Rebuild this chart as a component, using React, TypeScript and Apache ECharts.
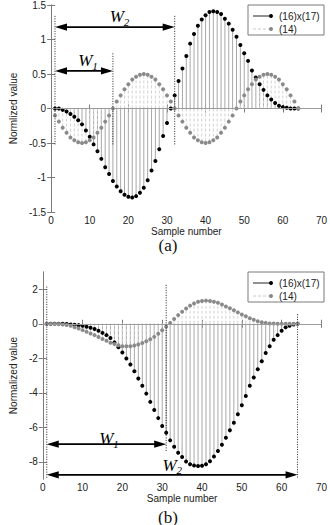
import React, { useEffect, useRef } from "react";
import * as echarts from "echarts";

// sample numbers 1..64
const sampleIndex = Array.from({ length: 64 }, (_, i) => i + 1);

// panel (a)
const productA = [
  0, 0, -0.02, -0.045, -0.08, -0.12, -0.17, -0.23, -0.32, -0.41,
  -0.52, -0.62, -0.73, -0.85, -0.95, -1.05, -1.13, -1.2, -1.25, -1.28,
  -1.29, -1.27, -1.22, -1.15, -1.04, -0.9, -0.76, -0.59, -0.4, -0.21,
  0, 0.19, 0.4, 0.58, 0.76, 0.94, 1.08, 1.2, 1.29, 1.35,
  1.4, 1.41, 1.4, 1.37, 1.3, 1.23, 1.14, 1.04, 0.92, 0.8,
  0.69, 0.55, 0.45, 0.35, 0.27, 0.19, 0.13, 0.08, 0.04, 0.02,
  0.01, 0, 0, 0,
];
const eq14A = [
  -0.1, -0.19, -0.28, -0.35, -0.42, -0.46, -0.49, -0.5,
  -0.49, -0.46, -0.42, -0.35, -0.28, -0.19, -0.1, 0,
  0.1, 0.19, 0.28, 0.35, 0.42, 0.46, 0.49, 0.5,
  0.49, 0.46, 0.42, 0.35, 0.28, 0.19, 0.1, 0,
  -0.1, -0.19, -0.28, -0.35, -0.42, -0.46, -0.49, -0.5,
  -0.49, -0.46, -0.42, -0.35, -0.28, -0.19, -0.1, 0,
  0.1, 0.19, 0.28, 0.35, 0.42, 0.46, 0.49, 0.5,
  0.49, 0.46, 0.42, 0.35, 0.28, 0.19, 0.1, 0,
];

// panel (b)
const productB = [
  0, 0, 0, 0, 0, -0.02, -0.04, -0.06, -0.08, -0.12,
  -0.17, -0.23, -0.31, -0.41, -0.53, -0.66, -0.83, -1.08, -1.36, -1.67,
  -2.02, -2.36, -2.75, -3.18, -3.6, -4.05, -4.53, -5.0, -5.47, -5.93,
  -6.32, -6.76, -7.13, -7.48, -7.73, -7.98, -8.15, -8.22, -8.25, -8.23,
  -8.15, -7.97, -7.69, -7.38, -7.02, -6.61, -6.18, -5.74, -5.25, -4.73,
  -4.19, -3.6, -3.12, -2.64, -2.17, -1.69, -1.3, -0.93, -0.66, -0.41,
  -0.21, -0.12, -0.04, 0,
];
const eq14B = [
  0, 0, -0.01, -0.02, -0.04, -0.07, -0.12, -0.2, -0.28, -0.37,
  -0.46, -0.56, -0.66, -0.77, -0.88, -0.99, -1.1, -1.18, -1.25, -1.3,
  -1.31, -1.3, -1.26, -1.2, -1.12, -1.02, -0.9, -0.76, -0.58, -0.38,
  -0.17, 0.05, 0.28, 0.5, 0.7, 0.89, 1.05, 1.18, 1.28, 1.32,
  1.34, 1.32, 1.28, 1.22, 1.12, 1.0, 0.9, 0.78, 0.66, 0.54,
  0.43, 0.32, 0.23, 0.15, 0.09, 0.05, 0.02, 0.01, 0, 0,
  0, 0, 0, 0,
];

// tick labels
const xTicks = [0, 10, 20, 30, 40, 50, 60, 70];
const yTicksA = [-1.5, -1, -0.5, 0, 0.5, 1, 1.5];
const yTicksB = [-8, -6, -4, -2, 0, 2];

// window annotations: dotted lines [x, yFrom, yTo]
const windowLinesA = [
  [1, -0.52, 1.35],
  [16, -0.52, 0.82],
  [32, -0.52, 1.35],
];
const windowLinesB = [
  [1, -8.92, 2.23],
  [31, -7.37, 2.28],
  [64, -8.92, 0.58],
];
// double arrows [xFrom, xTo, y]
const arrowsA = [
  [1, 16, 0.545],
  [1, 32, 1.18],
];
const arrowsB = [
  [1, 31, -6.98],
  [1, 64, -8.76],
];
// window labels [x, y] with subscripts
const labelsA = [
  [7, 0.61],
  [15.2, 1.25],
];
const labelsB = [
  [14.2, -6.98],
  [30.1, -8.53],
];
const labelSubs = ["1", "2"];

const legendNames = ["(16)x(17)", "(14)"];
const panelCaptions = ["(a)", "(b)"];
const yAxisNames = ["Normlized value", "Normalized value"];
const xAxisName = "Sample number";

const SANS = '"Liberation Sans", Arial, sans-serif';
const SERIF = '"Liberation Serif", "Times New Roman", serif';
const AXIS_COLOR = "#7a7a7a";
const LABEL_COLOR = "#222";

function stemSeries(ax: number, values: number[], color: string, dashed: boolean, withBase: boolean) {
  return {
    type: "custom",
    xAxisIndex: ax,
    yAxisIndex: ax,
    silent: true,
    clip: false,
    encode: { x: 0, y: 1 },
    data: values.map((v, i) => [sampleIndex[i], v]),
    renderItem: (params: any, api: any) => {
      const p0 = api.coord([api.value(0), 0]);
      const p1 = api.coord([api.value(0), api.value(1)]);
      return {
        type: "line",
        shape: { x1: p0[0], y1: p0[1], x2: p1[0], y2: p1[1] },
        style: { stroke: color, lineWidth: 1, lineDash: dashed ? [3, 2] : null },
      };
    },
    markLine: withBase
      ? {
          silent: true,
          symbol: "none",
          label: { show: false },
          lineStyle: { color: "#9a9a9a", type: "solid", width: 1 },
          data: [{ yAxis: 0 }],
        }
      : undefined,
    z: 1,
  };
}

function markerSeries(ax: number, values: number[], color: string, z: number) {
  return {
    type: "scatter",
    xAxisIndex: ax,
    yAxisIndex: ax,
    silent: true,
    symbol: "circle",
    symbolSize: 4,
    itemStyle: { color, opacity: 1 },
    data: values.map((v, i) => [sampleIndex[i], v]),
    z,
  };
}

function dottedSeries(ax: number, lines: number[][]) {
  return {
    type: "custom",
    xAxisIndex: ax,
    yAxisIndex: ax,
    silent: true,
    clip: false,
    encode: { x: 0, y: [1, 2] },
    data: lines,
    renderItem: (params: any, api: any) => {
      const p0 = api.coord([api.value(0), api.value(1)]);
      const p1 = api.coord([api.value(0), api.value(2)]);
      return {
        type: "line",
        shape: { x1: p0[0], y1: p0[1], x2: p1[0], y2: p1[1] },
        style: { stroke: "#222", lineWidth: 1, lineDash: [1, 1.5] },
      };
    },
    z: 5,
  };
}

function arrowSeries(ax: number, arrows: number[][]) {
  return {
    type: "custom",
    xAxisIndex: ax,
    yAxisIndex: ax,
    silent: true,
    clip: false,
    encode: { x: [0, 1], y: 2 },
    data: arrows,
    renderItem: (params: any, api: any) => {
      const a = api.coord([api.value(0), api.value(2)]);
      const b = api.coord([api.value(1), api.value(2)]);
      const L = 12;
      const H = 3.6;
      return {
        type: "group",
        children: [
          {
            type: "line",
            shape: { x1: a[0] + L - 1, y1: a[1], x2: b[0] - L + 1, y2: b[1] },
            style: { stroke: "#000", lineWidth: 1.6 },
          },
          {
            type: "polygon",
            shape: { points: [[a[0], a[1]], [a[0] + L, a[1] - H], [a[0] + L, a[1] + H]] },
            style: { fill: "#000" },
          },
          {
            type: "polygon",
            shape: { points: [[b[0], b[1]], [b[0] - L, b[1] - H], [b[0] - L, b[1] + H]] },
            style: { fill: "#000" },
          },
        ],
      };
    },
    z: 6,
  };
}

function labelSeries(ax: number, labels: number[][]) {
  return {
    type: "custom",
    xAxisIndex: ax,
    yAxisIndex: ax,
    silent: true,
    clip: false,
    encode: { x: 0, y: 1 },
    data: labels,
    renderItem: (params: any, api: any) => {
      const p = api.coord([api.value(0), api.value(1)]);
      return {
        type: "group",
        children: [
          {
            type: "text",
            x: p[0],
            y: p[1] + 3,
            style: {
              text: "W",
              fontFamily: SERIF,
              fontStyle: "italic",
              fontSize: 17,
              fill: "#000",
              align: "left",
              verticalAlign: "bottom",
            },
          },
          {
            type: "text",
            x: p[0] + 14,
            y: p[1] + 5,
            style: {
              text: labelSubs[params.dataIndex],
              fontFamily: SERIF,
              fontStyle: "italic",
              fontSize: 11,
              fill: "#000",
              align: "left",
              verticalAlign: "bottom",
            },
          },
        ],
      };
    },
    z: 7,
  };
}

function legendGraphics(top: number) {
  const left = 248;
  const w = 76;
  const h = 30;
  const rows = [top + 11, top + 24];
  const els: any[] = [
    {
      type: "rect",
      shape: { x: left, y: top, width: w, height: h },
      style: { fill: "#fff", stroke: AXIS_COLOR, lineWidth: 1 },
      z: 20,
    },
  ];
  const lineColors = ["#222", "#c8c8c8"];
  const dotColors = ["#000", "#888"];
  rows.forEach((y, i) => {
    els.push({
      type: "line",
      shape: { x1: left + 5, y1: y, x2: left + 23, y2: y },
      style: { stroke: lineColors[i], lineWidth: 1, lineDash: i === 1 ? [3, 2] : null },
      z: 21,
    });
    els.push({
      type: "circle",
      shape: { cx: left + 23, cy: y, r: 2 },
      style: { fill: dotColors[i] },
      z: 22,
    });
    els.push({
      type: "text",
      x: left + 31,
      y,
      style: {
        text: legendNames[i],
        fontFamily: SANS,
        fontSize: 10,
        fill: LABEL_COLOR,
        align: "left",
        verticalAlign: "middle",
      },
      z: 22,
    });
  });
  return els;
}

function buildOption() {
  const grids = [
    { left: 34, top: 5, width: 290, height: 207 },
    { left: 34, top: 272, width: 290, height: 207 },
  ];
  const yRanges = [
    { min: -1.5, max: 1.5, ticks: yTicksA },
    { min: -9, max: 3, ticks: yTicksB },
  ];
  const xAxes: any[] = [];
  const yAxes: any[] = [];
  [0, 1].forEach((g) => {
    const axisLine = { show: true, lineStyle: { color: AXIS_COLOR, width: 1 } };
    const tick = { show: true, inside: true, length: 4, lineStyle: { color: AXIS_COLOR } };
    xAxes.push({
      type: "value",
      gridIndex: g,
      min: 0,
      max: 70,
      interval: 10,
      position: "bottom",
      axisLine,
      axisTick: tick,
      splitLine: { show: false },
      axisLabel: {
        margin: 3,
        fontFamily: SANS,
        fontSize: 10,
        color: LABEL_COLOR,
        customValues: xTicks,
      },
      name: xAxisName,
      nameLocation: "middle",
      nameGap: 14,
      nameTextStyle: { fontFamily: SANS, fontSize: 10, color: LABEL_COLOR, verticalAlign: "top" },
    });
    xAxes.push({
      type: "value",
      gridIndex: g,
      min: 0,
      max: 70,
      interval: 10,
      position: "top",
      axisLine,
      axisTick: tick,
      splitLine: { show: false },
      axisLabel: { show: false },
    });
    const yr = yRanges[g];
    yAxes.push({
      type: "value",
      gridIndex: g,
      min: yr.min,
      max: yr.max,
      position: "left",
      axisLine,
      axisTick: { ...tick, customValues: yr.ticks },
      splitLine: { show: false },
      axisLabel: {
        margin: 5,
        fontFamily: SANS,
        fontSize: 10,
        color: LABEL_COLOR,
        customValues: yr.ticks,
      },
      name: yAxisNames[g],
      nameLocation: "middle",
      nameGap: 23,
      nameRotate: 90,
      nameTextStyle: { fontFamily: SANS, fontSize: 10, color: LABEL_COLOR },
    });
    yAxes.push({
      type: "value",
      gridIndex: g,
      min: yr.min,
      max: yr.max,
      position: "right",
      axisLine,
      axisTick: { ...tick, customValues: yr.ticks },
      splitLine: { show: false },
      axisLabel: { show: false },
    });
  });

  // panel a uses xAxis 0 / yAxis 0; panel b uses xAxis 2 / yAxis 2
  const series: any[] = [];
  const panels = [
    { ax: 0, prod: productA, eq: eq14A, lines: windowLinesA, arrows: arrowsA, labels: labelsA },
    { ax: 2, prod: productB, eq: eq14B, lines: windowLinesB, arrows: arrowsB, labels: labelsB },
  ];
  panels.forEach((p) => {
    series.push(stemSeries(p.ax, p.prod, "#a8a8a8", false, true));
    series.push(stemSeries(p.ax, p.eq, "#d2d2d2", true, false));
    series.push(markerSeries(p.ax, p.prod, "#000", 3));
    series.push(markerSeries(p.ax, p.eq, "#8a8a8a", 4));
    series.push(dottedSeries(p.ax, p.lines));
    series.push(arrowSeries(p.ax, p.arrows));
    series.push(labelSeries(p.ax, p.labels));
  });

  const graphic: any[] = [
    ...legendGraphics(5),
    ...legendGraphics(272),
    {
      type: "text",
      x: 168,
      y: 245,
      style: { text: panelCaptions[0], fontFamily: SERIF, fontSize: 17, fill: "#111", align: "center", verticalAlign: "middle" },
    },
    {
      type: "text",
      x: 168,
      y: 517,
      style: { text: panelCaptions[1], fontFamily: SERIF, fontSize: 17, fill: "#111", align: "center", verticalAlign: "middle" },
    },
  ];

  return {
    animation: false,
    backgroundColor: "#fff",
    grid: grids,
    xAxis: xAxes,
    yAxis: yAxes,
    series,
    graphic,
  };
}

export default function App() {
  const ref = useRef<HTMLDivElement>(null);
  useEffect(() => {
    if (!ref.current) return;
    const chart = echarts.init(ref.current, null, { renderer: "svg" });
    chart.setOption(buildOption() as any);
    return () => chart.dispose();
  }, []);
  return (
    <div
      ref={ref}
      style={{ position: "fixed", left: 0, top: 0, width: 330, height: 525, background: "#fff" }}
    />
  );
}
